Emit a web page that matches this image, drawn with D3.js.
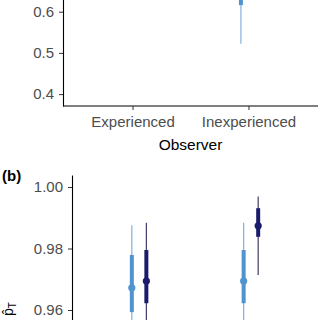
<!DOCTYPE html>
<html><head><meta charset="utf-8">
<script src="https://cdn.jsdelivr.net/npm/d3@7"></script>
<style>
html,body{margin:0;padding:0;background:#fff;}
svg{display:block;font-family:"Liberation Sans",Arial,sans-serif;}
</style></head>
<body><svg id="c" width="320" height="320"></svg>
<script>
// ---- data ----
const categories = ["Experienced", "Inexperienced"];
const seriesNames = ["Series 1", "Series 2"];
const xTitle = "Observer";

// panel (a) – only lower part is visible
const aTicks = [0.4, 0.5, 0.6];
const aLightPoint = [0.80, 0.665];
const aLightThickLo = [0.76, 0.616];
const aLightThickHi = [0.84, 0.71];
const aLightThinLo = [0.70, 0.522];
const aLightThinHi = [0.90, 0.80];
const aDarkPoint = [0.90, 0.84];
const aDarkThickLo = [0.86, 0.78];
const aDarkThickHi = [0.93, 0.88];
const aDarkThinLo = [0.80, 0.70];
const aDarkThinHi = [0.96, 0.93];

// panel (b)
const bTicks = [0.96, 0.98, 1.00];
const bLightPoint = [0.9672, 0.9694];
const bLightThickLo = [0.9593, 0.9622];
const bLightThickHi = [0.9779, 0.9795];
const bLightThinLo = [0.945, 0.948];
const bLightThinHi = [0.9876, 0.9884];
const bDarkPoint = [0.9694, 0.9874];
const bDarkThickLo = [0.9622, 0.9838];
const bDarkThickHi = [0.9795, 0.9931];
const bDarkThinLo = [0.948, 0.9714];
const bDarkThinHi = [0.9884, 0.9969];

const colors = {thick: ["#4f94d0", "#1b1b6b"], thin: ["#7fb0de", "#3d3d66"]};

const svg = d3.select("#c");

function makeSeries(pt, tl, th, nl, nh) {
  return categories.map((c, i) => ({cat: c, point: pt[i], tlo: tl[i], thi: th[i], nlo: nl[i], nhi: nh[i]}));
}

function drawPanel(opt) {
  const g = svg.append("g");
  const x = d3.scalePoint().domain(categories).range([opt.x0, opt.x1]).padding(0.6);
  const y = d3.scaleLinear().domain(opt.yDomain).range(opt.yRange);
  const dodge = d3.scalePoint().domain(seriesNames).range([-0.065 * x.step(), 0.065 * x.step()]);

  // y axis
  const ya = g.append("g").attr("transform", `translate(${opt.x0},0)`)
    .call(d3.axisLeft(y).tickValues(opt.ticks).tickFormat(opt.fmt).tickSize(4).tickSizeOuter(0).tickPadding(5));
  ya.select(".domain").attr("stroke", "#000").attr("stroke-width", 1.1);
  ya.selectAll(".tick line").attr("stroke", "#333");
  ya.selectAll(".tick text").attr("fill", "#4d4d4d").attr("font-size", 15).attr("font-family", "Liberation Sans, Arial, sans-serif");

  if (opt.xAxisY !== undefined) {
    const xa = g.append("g").attr("transform", `translate(0,${opt.xAxisY})`)
      .call(d3.axisBottom(x).tickSize(4).tickSizeOuter(0).tickPadding(6));
    xa.select(".domain").attr("stroke", "#000").attr("stroke-width", 1.1).attr("d", `M${opt.x0},0H${opt.x1}`);
    xa.selectAll(".tick line").attr("stroke", "#333");
    xa.selectAll(".tick text").attr("fill", "#4d4d4d").attr("font-size", 15).attr("font-family", "Liberation Sans, Arial, sans-serif");
    g.append("text").attr("x", (opt.x0 + opt.x1) / 2).attr("y", opt.xAxisY + 44)
      .attr("text-anchor", "middle").attr("font-size", 15.5).attr("fill", "#000").text(xTitle);
  }

  opt.series.forEach((s, si) => {
    const sg = g.append("g");
    const cx = d => x(d.cat) + dodge(seriesNames[si]);
    sg.selectAll("line.thin").data(s).join("line").attr("class", "thin")
      .attr("x1", cx).attr("x2", cx).attr("y1", d => y(d.nlo)).attr("y2", d => y(d.nhi))
      .attr("stroke", colors.thin[si]).attr("stroke-width", 1.2);
    sg.selectAll("line.thick").data(s).join("line").attr("class", "thick")
      .attr("x1", cx).attr("x2", cx).attr("y1", d => y(d.tlo)).attr("y2", d => y(d.thi))
      .attr("stroke", colors.thick[si]).attr("stroke-width", 4);
    sg.selectAll("circle").data(s).join("circle")
      .attr("cx", cx).attr("cy", d => y(d.point)).attr("r", 3.6)
      .attr("fill", colors.thick[si]);
  });
  return g;
}

// panel (a): 0.6 at y=11.7, 0.1 per 41.2px
const aY = v => 11.7 + (0.6 - v) * 412;
drawPanel({
  x0: 63, x1: 318, yDomain: [0.371, 1.0], yRange: [aY(0.371), aY(1.0)],
  ticks: aTicks, fmt: d3.format(".1f"), xAxisY: 106,
  series: [
    makeSeries(aLightPoint, aLightThickLo, aLightThickHi, aLightThinLo, aLightThinHi),
    makeSeries(aDarkPoint, aDarkThickLo, aDarkThickHi, aDarkThinLo, aDarkThinHi)
  ]
});

// panel (b): 1.00 at y=187, 0.01 per 30.75px
const bY = v => 187 + (1.0 - v) * 3075;
drawPanel({
  x0: 72, x1: 318, yDomain: [0.94, 1.0039], yRange: [bY(0.94), bY(1.0039)],
  ticks: bTicks, fmt: d3.format(".2f"),
  series: [
    makeSeries(bLightPoint, bLightThickLo, bLightThickHi, bLightThinLo, bLightThinHi),
    makeSeries(bDarkPoint, bDarkThickLo, bDarkThickHi, bDarkThinLo, bDarkThinHi)
  ]
});

svg.append("text").attr("x", 2).attr("y", 181).attr("font-size", 15).attr("font-weight", "bold").attr("fill", "#000").text("(b)");

const yl = svg.append("text").attr("transform", "translate(13,316) rotate(-90)")
  .attr("font-size", 14).attr("fill", "#000");
yl.append("tspan").text("p\u0302");
yl.append("tspan").attr("font-size", 10).attr("dy", 3).text("T");
</script></body></html>
